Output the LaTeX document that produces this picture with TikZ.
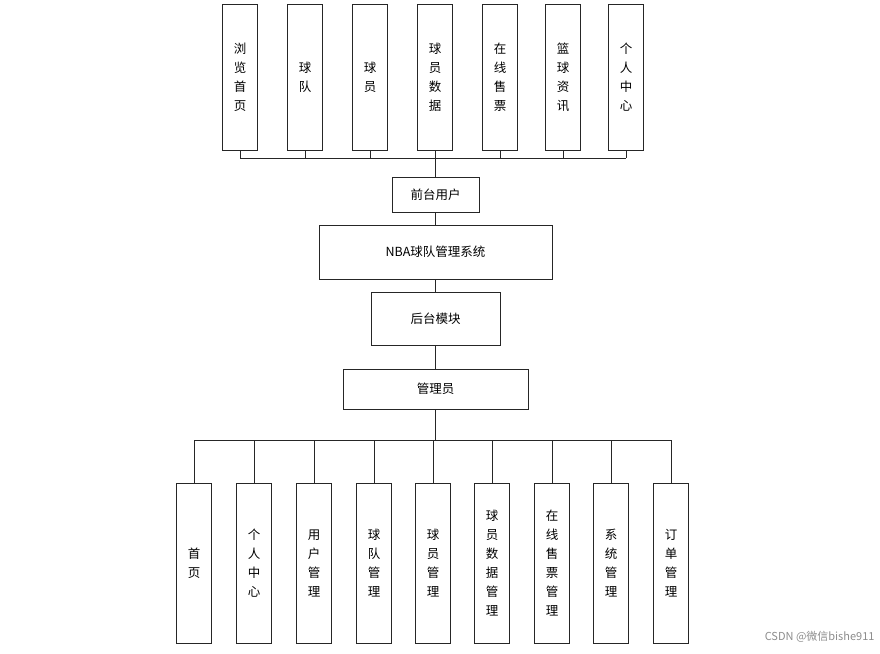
\documentclass[tikz,border=0pt]{standalone}
\usepackage{fontspec}
\setmainfont{Noto Sans CJK SC}
\begin{document}
\begin{tikzpicture}[x=1pt,y=-1pt,
  box/.style={draw=black!85,line width=0.8pt,inner sep=0pt,align=center,font=\fontsize{12.5}{19}\selectfont},
  vbox/.style={box,minimum width=35pt},
  ln/.style={draw=black!85,line width=0.8pt}]
\useasboundingbox (0,0) rectangle (880,653);
\foreach \n/\x/\t in {t1/240/浏\\览\\首\\页, t2/305/球\\队, t3/370/球\\员, t4/435/球\\员\\数\\据, t5/500/在\\线\\售\\票, t6/563/篮\\球\\资\\讯, t7/626/个\\人\\中\\心}
  \node[vbox,minimum height=146pt] (\n) at (\x,77) {\t};
\node[box,minimum width=87pt,minimum height=35pt] (fq) at (435.5,194.5) {前台用户};
\node[box,minimum width=233pt,minimum height=54pt] (nba) at (435.5,252) {NBA球队管理系统};
\node[box,minimum width=129pt,minimum height=53pt] (ht) at (435.5,318.5) {后台模块};
\node[box,minimum width=185pt,minimum height=40pt] (gl) at (435.5,389) {管理员};
\foreach \n/\x/\t in {b1/194/首\\页, b2/254/个\\人\\中\\心, b3/314/用\\户\\管\\理, b4/374/球\\队\\管\\理, b5/433/球\\员\\管\\理, b6/492/球\\员\\数\\据\\管\\理, b7/552/在\\线\\售\\票\\管\\理, b8/611/系\\统\\管\\理, b9/671/订\\单\\管\\理}
  \node[vbox,minimum height=160pt] (\n) at (\x,563) {\t};
\coordinate (tbus) at (435.5,158);
\foreach \n in {t1,t2,t3,t4,t5,t6,t7} \draw[ln] (\n.south) -- (\n.south |- tbus);
\draw[ln] (t1.south |- tbus) -- (t7.south |- tbus);
\draw[ln] (t4.south -| fq.north) -- (fq.north);
\draw[ln] (fq) -- (nba);
\draw[ln] (nba) -- (ht);
\draw[ln] (ht) -- (gl);
\coordinate (bbus) at (435.5,440);
\draw[ln] (gl.south) -- (bbus);
\draw[ln] (b1.north |- bbus) -- (b9.north |- bbus);
\foreach \n in {b1,b2,b3,b4,b5,b6,b7,b8,b9} \draw[ln] (\n.north |- bbus) -- (\n.north);
\node[text=black!45,font=\fontsize{11}{13}\selectfont,anchor=east] (wm) at (878,637) {CSDN @微信bishe911};
\end{tikzpicture}
\end{document}
